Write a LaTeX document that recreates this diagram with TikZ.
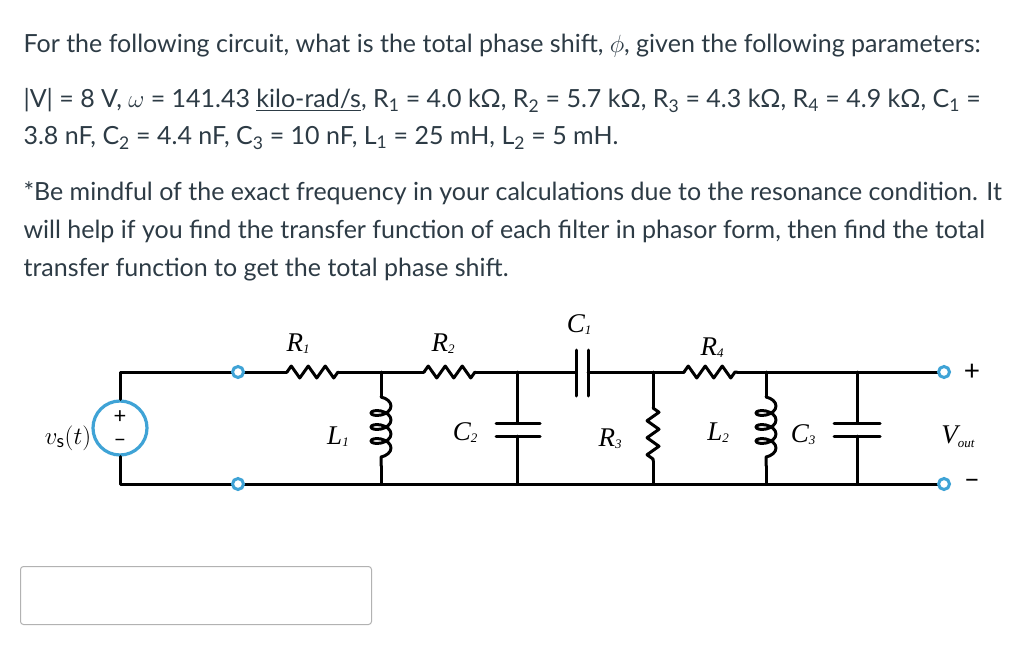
\documentclass[tikz,border=0pt]{standalone}
\usepackage{fontspec}
\setmainfont{Lato}
\newfontfamily\cserif{Liberation Serif}
\usetikzlibrary{decorations.pathmorphing,decorations.pathreplacing}
\definecolor{tblue}{HTML}{3FA3D6}
\definecolor{txt}{HTML}{2D3B45}
\begin{document}
\begin{tikzpicture}[x=1pt,y=-1pt,
  wire/.style={line width=3pt,line cap=round,line join=round},
  term/.style={circle,draw=tblue,line width=3pt,fill=white,minimum size=11pt,inner sep=0pt},
  para/.style={anchor=base west,text=txt,font=\fontsize{25}{28}\selectfont},
  clab/.style={font=\cserif\itshape\fontsize{27}{28}\selectfont},
  sub/.style={},
  res/.style={wire,decorate,decoration={zigzag,segment length=17,amplitude=6}},
  ind/.style={wire,decorate,decoration={coil,aspect=0.55,segment length=14,amplitude=10}}]
\useasboundingbox (0,0) rectangle (1024,647);
\fill[white] (0,0) rectangle (1024,647);
% text
\node[para] (t1) at (20,53) {For the following circuit, what is the total phase shift, $\phi$, given the following parameters:};
\node[para] (t2) at (20,108) {|V| = 8 V, $\omega$ = 141.43 \underline{kilo-rad/s}, R\textsubscript{1} = 4.0 kΩ, R\textsubscript{2} = 5.7 kΩ, R\textsubscript{3} = 4.3 kΩ, R\textsubscript{4} = 4.9 kΩ, C\textsubscript{1} =};
\node[para] (t3) at (20,145) {3.8 nF, C\textsubscript{2} = 4.4 nF, C\textsubscript{3} = 10 nF, L\textsubscript{1} = 25 mH, L\textsubscript{2} = 5 mH.};
\node[para] (t4) at (20,200) {*Be mindful of the exact frequency in your calculations due to the resonance condition. It};
\node[para] (t5) at (20,238) {will help if you find the transfer function of each filter in phasor form, then find the total};
\node[para] (t6) at (20,276) {transfer function to get the total phase shift.};
\node[draw=gray!60,line width=1pt,rounded corners=3pt,minimum width=351pt,minimum height=58pt,anchor=north west,inner sep=0pt] (ans) at (20,566) {};
% coordinates
\coordinate (TL) at (120,372); \coordinate (BL) at (120,484);
\coordinate (TA) at (238,372); \coordinate (BA) at (238,484);
\coordinate (r1a) at (287,372); \coordinate (r1b) at (338,372);
\coordinate (n1) at (381,372); \coordinate (m1) at (381,484);
\coordinate (r2a) at (424,372); \coordinate (r2b) at (475,372);
\coordinate (n2) at (517,372); \coordinate (m2) at (517,484);
\coordinate (c1a) at (576,372); \coordinate (c1b) at (588,372);
\coordinate (n3) at (653,372); \coordinate (m3) at (653,484);
\coordinate (r4a) at (684,372); \coordinate (r4b) at (737,372);
\coordinate (n4) at (766,372); \coordinate (m4) at (766,484);
\coordinate (n5) at (857,372); \coordinate (m5) at (857,484);
\coordinate (TR) at (944,372); \coordinate (BR) at (944,484);
% source
\node[circle,draw=tblue,line width=3.2pt,minimum size=54pt,inner sep=0pt] (src) at (120,428) {};
\draw[wire] (src.north) -- (TL) -- (TA);
\draw[wire] (src.south) -- (BL) -- (BA);
\node[font=\fontsize{22}{22}\selectfont] (pl) at (120,417) {+};
\node[font=\fontsize{22}{22}\selectfont] (mi) at (120,443) {--};
\node[font=\fontsize{25}{26}\selectfont] (vs) at (68,438) {$v_{\mathrm{s}}(t)$};
% top wire
\draw[wire] (TA) -- (r1a);
\draw[res] (r1a) -- (r1b);
\draw[wire] (r1b) -- (r2a);
\draw[res] (r2a) -- (r2b);
\draw[wire] (r2b) -- (c1a);
\draw[wire] (c1a) ++(0,-22) -- ++(0,46);
\draw[wire] (c1b) ++(0,-22) -- ++(0,46);
\draw[wire] (c1b) -- (r4a);
\draw[res] (r4a) -- (r4b);
\draw[wire] (r4b) -- (TR);
\draw[wire] (BA) -- (BR);
% L1
\draw[wire] (n1) -- (381,397);
\draw[ind] (381,397) -- (381,466);
\draw[wire] (381,466) -- (m1);
% C2
\draw[wire] (n2) -- (517,423) (517,436) -- (m2);
\draw[wire] (496,423) -- (540,423) (496,436) -- (540,436);
% R3
\draw[wire] (n3) -- (653,408);
\draw[res] (653,408) -- (653,461);
\draw[wire] (653,461) -- (m3);
% L2
\draw[wire] (n4) -- (766,397);
\draw[ind] (766,397) -- (766,466);
\draw[wire] (766,466) -- (m4);
% C3
\draw[wire] (n5) -- (857,423) (857,436) -- (m5);
\draw[wire] (834,423) -- (880,423) (834,436) -- (880,436);
% terminals
\node[term] (ta) at (TA) {}; \node[term] (ba) at (BA) {};
\node[term] (tr) at (TR) {}; \node[term] (br) at (BR) {};
\node[font=\fontsize{28}{28}\selectfont] (op) at (972,372) {+};
\node[font=\fontsize{28}{28}\selectfont] (om) at (972,484) {--};
% labels
\node[clab] (lR1) at (298,344) {R\raisebox{-2pt}{\fontsize{13}{13}\selectfont 1}};
\node[clab] (lR2) at (443,344) {R\raisebox{-2pt}{\fontsize{13}{13}\selectfont 2}};
\node[clab] (lC1) at (579,325) {C\raisebox{-2pt}{\fontsize{13}{13}\selectfont 1}};
\node[clab] (lR4) at (712,348) {R\raisebox{-2pt}{\fontsize{13}{13}\selectfont 4}};
\node[clab] (lL1) at (338,437) {L\raisebox{-2pt}{\fontsize{13}{13}\selectfont 1}};
\node[clab] (lC2) at (465,433) {C\raisebox{-2pt}{\fontsize{13}{13}\selectfont 2}};
\node[clab] (lR3) at (610,439) {R\raisebox{-2pt}{\fontsize{13}{13}\selectfont 3}};
\node[clab] (lL2) at (718,433) {L\raisebox{-2pt}{\fontsize{13}{13}\selectfont 2}};
\node[clab] (lC3) at (803,435) {C\raisebox{-2pt}{\fontsize{13}{13}\selectfont 3}};
\node[clab] (lV) at (958,437) {V\raisebox{-4pt}{\fontsize{13}{13}\selectfont out}};
\end{tikzpicture}
\end{document}
